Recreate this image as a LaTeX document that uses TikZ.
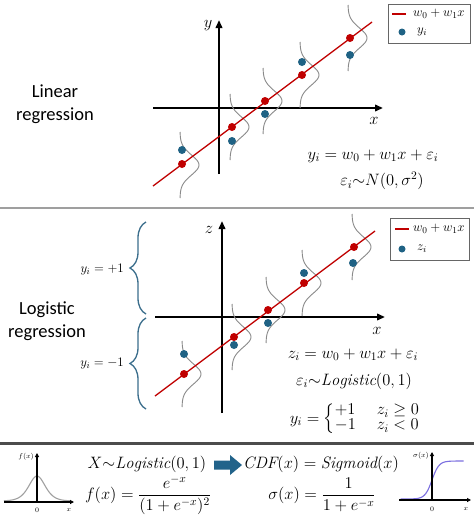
\RequirePackage{fix-cm}
\documentclass[tikz,border=0pt]{standalone}
\usepackage{amsmath,amssymb}
\usepackage{fontspec}
\setsansfont{Carlito}
\usetikzlibrary{arrows.meta,decorations.pathreplacing}
\definecolor{lred}{HTML}{C00000}
\definecolor{dblue}{HTML}{1F6284}
\definecolor{bracecol}{HTML}{3B6E8C}
\definecolor{arrowcol}{HTML}{22638A}
\definecolor{gausscol}{HTML}{8A8A8A}
\definecolor{sigcol}{HTML}{7B6FE0}
\newcommand{\gausscurve}[2]{\draw[gaussline] plot[smooth,samples=41,domain=-33:33] ({#1-2+19*exp(-((\x)*(\x))/200)},{#2+\x});}
\tikzset{
  axisline/.style={line width=2.3pt,-{Triangle[length=8pt,width=6.5pt]}},
  miniaxis/.style={line width=1.3pt,-{Triangle[length=4pt,width=4pt]}},
  fitline/.style={lred,line width=1.3pt},
  rdot/.style={circle,fill=lred,inner sep=0pt,minimum size=8pt},
  bdot/.style={circle,fill=dblue,inner sep=0pt,minimum size=8pt},
  gaussline/.style={gausscol,line width=0.9pt},
  legbox/.style={draw=gray!80!black,line width=0.9pt,fill=white},
  legtext/.style={font=\fontsize{13}{15}\selectfont,anchor=west,inner sep=0pt},
  eqtext/.style={font=\fontsize{16.5}{19}\selectfont,inner sep=0pt},
  titletext/.style={font=\sffamily\fontsize{18.5}{23}\selectfont,align=center,inner sep=0pt},
  bracestyle/.style={bracecol,line width=1.3pt,decorate,decoration={brace,amplitude=16pt}},
  minilabel/.style={font=\fontsize{7}{8}\selectfont,inner sep=0pt},
  sidelabel/.style={font=\fontsize{13}{15}\selectfont,anchor=east,inner sep=0pt},
  blockarrow/.style={fill=arrowcol},
}
\begin{document}
\begin{tikzpicture}[x=1pt,y=-1pt]
\useasboundingbox (0,0) rectangle (474,517);
\fill[white] (0,0) rectangle (474,517);

% ================= TOP PANEL: linear regression =================
\node[titletext] (lintitle) at (55,104) {Linear\\regression};

\coordinate (ax1) at (153,108);
\coordinate (ax2) at (383,108);
\coordinate (ay1) at (219,174);
\coordinate (ay2) at (219,20);
\draw[axisline] (ax1) -- (ax2);
\draw[axisline] (ay1) -- (ay2);
\node[eqtext] (ylab) at (208,26) {$y$};
\node[eqtext] (xlab) at (374,121) {$x$};

\gausscurve{182}{165}
\gausscurve{232}{127}
\gausscurve{265}{101}
\gausscurve{302}{75}
\gausscurve{350}{38}

\coordinate (l1) at (153,186);
\coordinate (l2) at (372,22);
\draw[fitline] (l1) -- (l2);

\node[rdot] (r1) at (182,164) {};
\node[rdot] (r2) at (232,127) {};
\node[rdot] (r3) at (265,101) {};
\node[rdot] (r4) at (302,75) {};
\node[rdot] (r5) at (350,38) {};
\node[bdot] (b1) at (182,150) {};
\node[bdot] (b2) at (232,141) {};
\node[bdot] (b3) at (265,114) {};
\node[bdot] (b4) at (302,62) {};
\node[bdot] (b5) at (350,55) {};

\node[legbox,minimum width=82pt,minimum height=39pt,anchor=north west] (leg1) at (388,4) {};
\coordinate (lg1a) at (392,14);
\coordinate (lg1b) at (406,14);
\draw[fitline] (lg1a) -- (lg1b);
\node[legtext] (lg1t) at (413,14) {$w_0+w_1x$};
\node[bdot,minimum size=7pt] (lg1d) at (402,32) {};
\node[legtext] (lg1y) at (417,32) {$y_i$};

\node[eqtext] (eq1) at (373,156) {$y_i=w_0+w_1x+\varepsilon_i$};
\node[eqtext] (eq2) at (382,181) {$\varepsilon_i{\sim}N(0,\sigma^2)$};

% separator
\coordinate (s1a) at (0,208);
\coordinate (s1b) at (474,208);
\draw[gray!75,line width=2pt] (s1a) -- (s1b);

% ================= MIDDLE PANEL: logistic regression =================
\node[titletext] (logtitle) at (47,321) {Logistic\\regression};

\coordinate (bx1) at (155,317);
\coordinate (bx2) at (385,317);
\coordinate (bz1) at (222,413);
\coordinate (bz2) at (222,221);
\draw[axisline] (bx1) -- (bx2);
\draw[axisline] (bz1) -- (bz2);
\node[eqtext] (zlab) at (209,230) {$z$};
\node[eqtext] (xlab2) at (377,331) {$x$};

\gausscurve{184}{374}
\gausscurve{234}{337}
\gausscurve{268}{310}
\gausscurve{304}{283}
\gausscurve{354}{247}

\coordinate (m1) at (155,396);
\coordinate (m2) at (375,231);
\draw[fitline] (m1) -- (m2);

\node[rdot] (q1) at (184,374) {};
\node[rdot] (q2) at (234,337) {};
\node[rdot] (q3) at (268,310) {};
\node[rdot] (q4) at (304,283) {};
\node[rdot] (q5) at (354,247) {};
\node[bdot] (c1) at (184,354) {};
\node[bdot] (c2) at (234,345) {};
\node[bdot] (c3) at (268,323) {};
\node[bdot] (c4) at (304,273) {};
\node[bdot] (c5) at (353,263) {};

\node[legbox,minimum width=79pt,minimum height=42pt,anchor=north west] (leg2) at (390,218) {};
\coordinate (lg2a) at (395,229);
\coordinate (lg2b) at (409,229);
\draw[fitline] (lg2a) -- (lg2b);
\node[legtext] (lg2t) at (413,229) {$w_0+w_1x$};
\node[bdot,minimum size=7pt] (lg2d) at (402,249) {};
\node[legtext] (lg2z) at (417,249) {$z_i$};

% braces
\coordinate (br1a) at (146,314);
\coordinate (br1b) at (146,222);
\coordinate (br2a) at (146,409);
\coordinate (br2b) at (146,318);
\draw[bracestyle] (br1a) -- (br1b);
\draw[bracestyle] (br2a) -- (br2b);
\node[sidelabel] (yp1) at (124,270) {$y_i=+1$};
\node[sidelabel] (ym1) at (124,364) {$y_i=-1$};

\node[eqtext] (eq3) at (353,355) {$z_i=w_0+w_1x+\varepsilon_i$};
\node[eqtext] (eq4) at (354,381) {$\varepsilon_i{\sim}\mathit{Logistic}(0,1)$};
\node[font=\fontsize{16.5}{14.5}\selectfont,inner sep=0pt] (eq5) at (355,419) {\delimiterfactor=800 \delimitershortfall=8pt $y_i=\left\{\def\arraystretch{1}\begin{array}{@{}l@{\quad\;}l@{}}+1 & z_i\ge 0\\ -1 & z_i<0\end{array}\right.$};

% separator
\coordinate (s2a) at (0,443);
\coordinate (s2b) at (474,443);
\draw[black!70,line width=3pt] (s2a) -- (s2b);

% ================= BOTTOM PANEL =================
% left mini plot (pdf)
\coordinate (pa1) at (4,502);
\coordinate (pa2) at (74,502);
\coordinate (pv1) at (37,502);
\coordinate (pv2) at (37,453);
\draw[gausscol!80,line width=1.1pt] plot[smooth,samples=61,domain=-6:6] ({37+5.5*\x},{501-100*exp(-abs(\x))/((1+exp(-abs(\x)))^2)});
\draw[miniaxis] (pa1) -- (pa2);
\draw[miniaxis] (pv1) -- (pv2);
\node[minilabel,anchor=east] (fxl) at (34,457) {$f(x)$};
\node[minilabel] (p0) at (37,510) {$0$};
\node[minilabel] (px) at (69,510) {$x$};

% right mini plot (sigmoid)
\coordinate (sa1) at (399,500);
\coordinate (sa2) at (471,500);
\coordinate (sv1) at (432,500);
\coordinate (sv2) at (432,452);
\draw[sigcol,line width=1.1pt] plot[smooth,samples=61,domain=-9:9] ({432+3.5*\x},{499-38/(1+exp(-\x))});
\draw[miniaxis] (sa1) -- (sa2);
\draw[miniaxis] (sv1) -- (sv2);
\node[minilabel,anchor=east] (sxl) at (429,456) {$\sigma(x)$};
\node[minilabel] (s0) at (432,509) {$0$};
\node[minilabel] (sx) at (466,509) {$x$};

% equations
\node[eqtext] (eq6) at (147,464) {$X{\sim}\mathit{Logistic}(0,1)$};
\node[eqtext] (eq7) at (148,495) {$f(x)=\dfrac{e^{-x}}{(1+e^{-x})^2}$};
\fill[blockarrow] (214,460.5) -- (230,460.5) -- (230,455) -- (242,465) -- (230,475) -- (230,469.5) -- (214,469.5) -- cycle;
\node[eqtext] (eq8) at (321,464) {$\mathit{CDF}(x)=\mathit{Sigmoid}(x)$};
\node[eqtext] (eq9) at (322,495) {$\sigma(x)=\dfrac{1}{1+e^{-x}}$};
\end{tikzpicture}
\end{document}
